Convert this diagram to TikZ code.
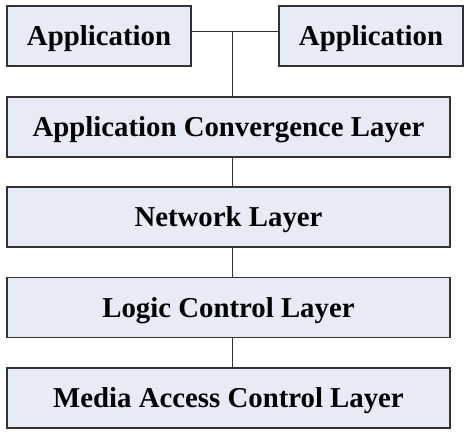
\documentclass[tikz,border=0pt]{standalone}
\usepackage{fontspec}
\setmainfont{Liberation Serif}
\begin{document}
\begin{tikzpicture}[x=1pt,y=-1pt,
  box/.style={draw=black!80,line width=1.2pt,fill=boxfill,inner sep=0pt,text height=19pt,text depth=0pt,font=\fontsize{28.8}{32}\selectfont\bfseries},
  link/.style={draw=black!80,line width=1pt}]
\definecolor{boxfill}{HTML}{E6EBF5}
\useasboundingbox (0,0) rectangle (474,437);
\node[box,minimum width=184pt,minimum height=60pt] (app1) at (99,36) {Application};
\node[box,minimum width=184pt,minimum height=60pt] (app2) at (371,36) {Application};
\node[box,minimum width=443pt,minimum height=60pt] (acl) at (228.5,127) {Application Convergence Layer};
\node[box,minimum width=443pt,minimum height=60pt] (net) at (228.5,217) {Network Layer};
\node[box,minimum width=443pt,minimum height=60pt] (lcl) at (228.5,307.5) {Logic Control Layer};
\node[box,minimum width=443pt,minimum height=60pt] (mac) at (228.5,398) {Media Access Control Layer};
\coordinate (j) at (232,31);
\draw[link] (app1.east |- j) -- (app2.west |- j);
\draw[link] (j) -- (j |- acl.north);
\draw[link] (j |- acl.south) -- (j |- net.north);
\draw[link] (j |- net.south) -- (j |- lcl.north);
\draw[link] (j |- lcl.south) -- (j |- mac.north);
\end{tikzpicture}
\end{document}
